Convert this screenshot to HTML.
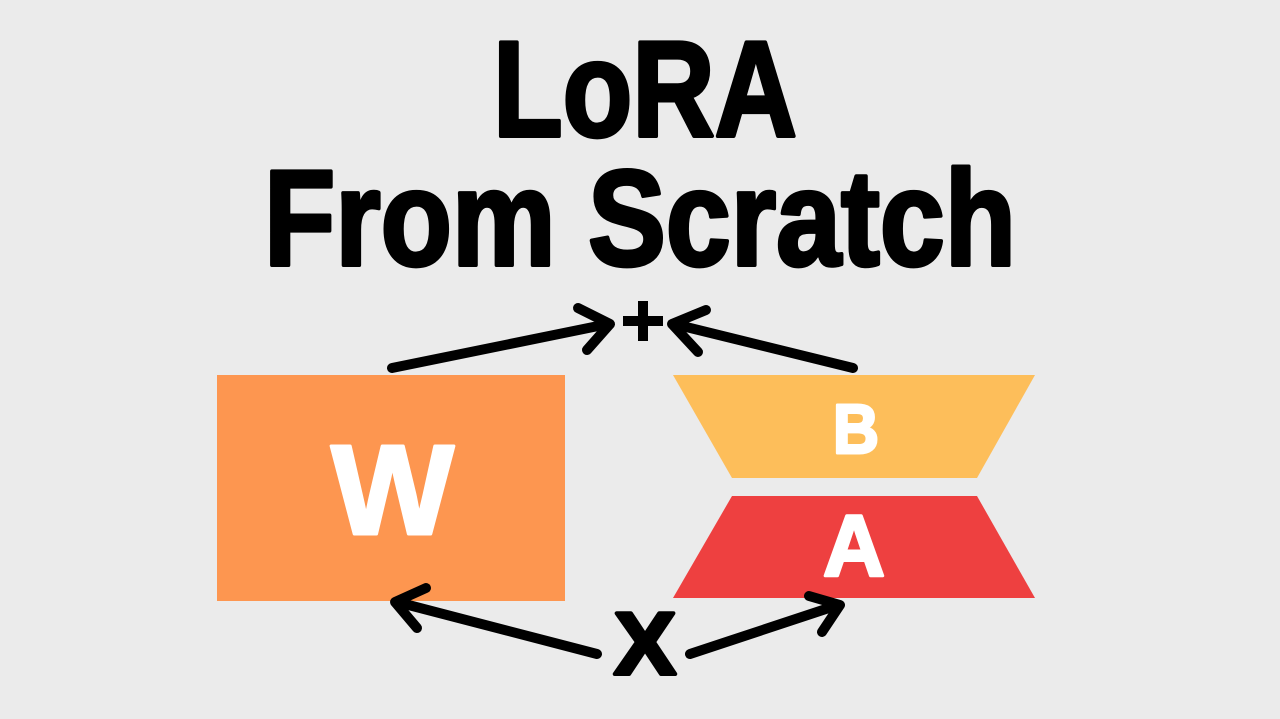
<!DOCTYPE html>
<html><head><style>html,body{margin:0;padding:0;background:#ebebeb;}svg{display:block}</style></head>
<body>
<svg width="1280" height="719" viewBox="0 0 1280 719" xmlns="http://www.w3.org/2000/svg">
<rect width="1280" height="719" fill="#ebebeb"/>
<g font-family="Liberation Sans, sans-serif" font-weight="bold" stroke="#000" stroke-width="4" stroke-linejoin="round">
<text x="493" y="136" font-size="136" textLength="304" lengthAdjust="spacingAndGlyphs" fill="#000">LoRA</text>
<text x="264" y="265" font-size="136" textLength="752" lengthAdjust="spacingAndGlyphs" fill="#000">From Scratch</text>
</g>
<rect x="217" y="375" width="348" height="226" fill="#fd9650"/>
<polygon points="673,375 1035,375 977,478 732,478" fill="#fdbe5a"/>
<polygon points="732,496 977,496 1035,598 673,598" fill="#ee4040"/>
<g font-family="Liberation Sans, sans-serif" font-weight="bold" fill="#fff" stroke="#fff" stroke-width="3" stroke-linejoin="round">
<text x="331" y="534" font-size="128" textLength="123" lengthAdjust="spacingAndGlyphs">W</text>
<text x="833" y="453" font-size="70" textLength="46" lengthAdjust="spacingAndGlyphs">B</text>
<text x="823" y="576" font-size="87" textLength="62" lengthAdjust="spacingAndGlyphs">A</text>
</g>
<g stroke="#000" stroke-width="10" stroke-linecap="round" stroke-linejoin="round" fill="none">
<line x1="392" y1="368" x2="608" y2="324"/>
<polyline points="578,308 610,324 587,350"/>
<line x1="853" y1="368" x2="674" y2="324"/>
<polyline points="706,310 672,324 698,352"/>
<line x1="597" y1="654" x2="397" y2="602"/>
<polyline points="426,588 395,602 417,628"/>
<line x1="690" y1="654" x2="838" y2="605"/>
<polyline points="809,596 840,605 822,632"/>
</g>
<rect x="623" y="316" width="40" height="10" fill="#000"/>
<rect x="638" y="301" width="10" height="40" fill="#000"/>
<text x="614" y="674" font-family="Liberation Sans, sans-serif" font-weight="bold" font-size="88" textLength="62" lengthAdjust="spacingAndGlyphs" fill="#000" stroke="#000" stroke-width="4" stroke-linejoin="round">X</text>
</svg>
</body></html>
